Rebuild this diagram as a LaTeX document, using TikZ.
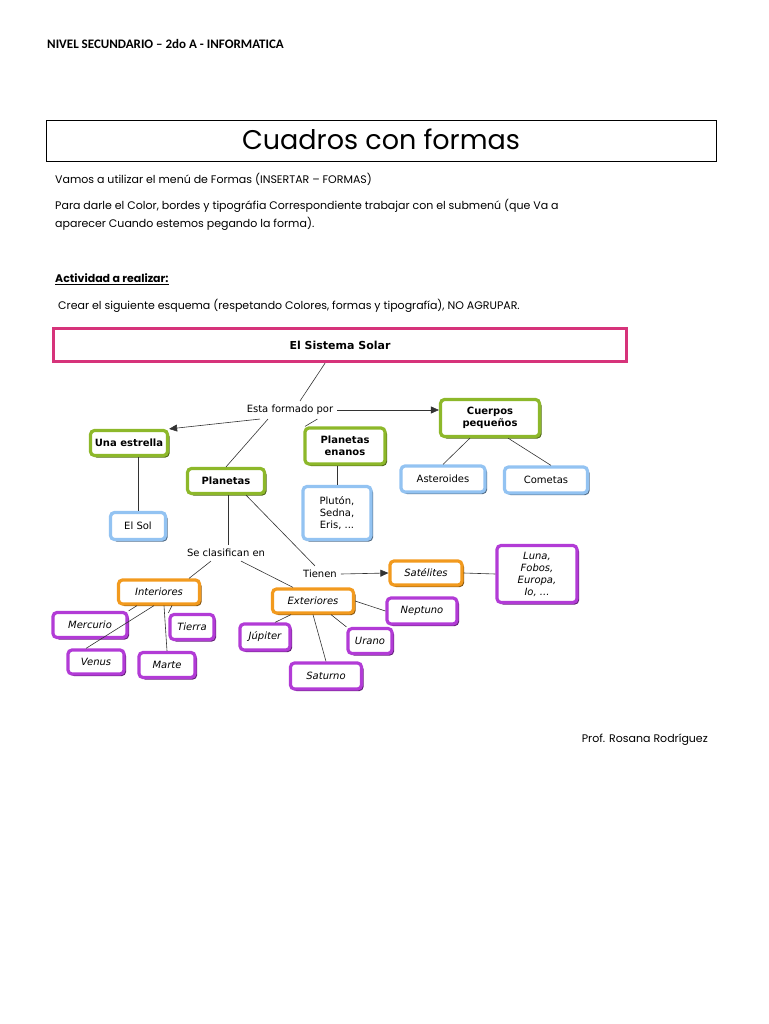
\documentclass[tikz,border=0pt]{standalone}
\usepackage{fontspec}
\setmainfont{Carlito}
\newfontfamily\dv{DejaVu Sans}
\newfontfamily\cm{Poppins}
\usetikzlibrary{shadows,arrows.meta}
\definecolor{pinkc}{HTML}{D6337A}
\definecolor{greenc}{HTML}{8DB82A}
\definecolor{bluec}{HTML}{93C3F2}
\definecolor{orangec}{HTML}{F29A1E}
\definecolor{purplec}{HTML}{B23BD6}
\tikzset{
 bx/.style={draw=#1, line width=3.2pt, rounded corners=4pt, fill=white, align=center, inner sep=1pt,
   drop shadow={shadow xshift=2pt, shadow yshift=-2pt, fill=#1!55!black, opacity=1}},
 gr/.style={bx=greenc, font=\dv\bfseries\fontsize{10}{12}\selectfont},
 bl/.style={bx=bluec, font=\dv\fontsize{10}{12}\selectfont},
 orn/.style={bx=orangec, font=\dv\itshape\fontsize{10}{12}\selectfont},
 pu/.style={bx=purplec, font=\dv\itshape\fontsize{10}{12}\selectfont},
 lb/.style={font=\dv\fontsize{10}{12}\selectfont, inner sep=4pt},
 ln/.style={draw=black!80, line width=0.6pt},
 ar/.style={ln, -{Triangle[length=8pt,width=7pt]}},
 tx/.style={font=\cm\fontsize{11}{14}\selectfont, anchor=west, inner sep=0pt},
}
\begin{document}
\begin{tikzpicture}[x=1pt,y=-1pt]
\useasboundingbox (0,0) rectangle (768,1024);
\node[anchor=west,inner sep=0pt,font=\bfseries\fontsize{13}{15}\selectfont] (hd) at (47,44) {NIVEL SECUNDARIO – 2do A - INFORMATICA};
\node[draw, line width=0.7pt, minimum width=670pt, minimum height=41pt, inner sep=0pt] (tb) at (381,140.5) {};
\node[font=\cm\fontsize{27}{30}\selectfont] (tt) at (381,139) {Cuadros con formas};
\node[tx] (l1) at (55,179) {Vamos a utilizar el menú de Formas (INSERTAR – FORMAS)};
\node[tx] (l2) at (55,206) {Para darle el Color, bordes y tipográfia Correspondiente trabajar con el submenú (que Va a};
\node[tx] (l3) at (55,224) {aparecer Cuando estemos pegando la forma).};
\node[tx,font=\cm\bfseries\fontsize{11}{14}\selectfont] (ac) at (55,279) {\underline{Actividad a realizar:}};
\node[tx] (cr) at (58,306) {Crear el siguiente esquema (respetando Colores, formas y tipografía), NO AGRUPAR.};
\node[tx,anchor=east] (pr) at (708,740) {Prof. Rosana Rodríguez};

% diagram
\node[draw=pinkc, line width=3.5pt, fill=white, minimum width=573pt, minimum height=33pt, font=\dv\bfseries\fontsize{11}{13}\selectfont] (ss) at (340,345) {El Sistema Solar};
\node[lb] (ef) at (290,410) {Esta formado por};
\node[gr, minimum width=77pt, minimum height=25pt] (ue) at (129,443) {Una estrella};
\node[gr, minimum width=77pt, minimum height=25pt] (pl) at (226,481) {Planetas};
\node[gr, minimum width=80pt, minimum height=36pt] (pe) at (345,446) {Planetas\\enanos};
\node[gr, minimum width=99pt, minimum height=37pt] (cp) at (490,418) {Cuerpos\\pequeños};
\node[bl, minimum width=55pt, minimum height=27pt] (so) at (138,526) {El Sol};
\node[bl, minimum width=68pt, minimum height=53pt] (pt) at (337,513) {Plutón,\\Sedna,\\Eris, ...};
\node[bl, minimum width=84pt, minimum height=26pt] (as) at (443,479) {Asteroides};
\node[bl, minimum width=83pt, minimum height=26pt] (co) at (546,480) {Cometas};
\node[lb] (sc) at (226,553) {Se clasifican en};
\node[lb] (ti) at (320,574) {Tienen};
\node[orn, minimum width=72pt, minimum height=24pt] (sa) at (426,573) {Satélites};
\node[pu, minimum width=80pt, minimum height=57pt] (lu) at (537,574) {Luna,\\Fobos,\\Europa,\\Io, ...};
\node[orn, minimum width=81pt, minimum height=24pt] (in) at (159,592) {Interiores};
\node[orn, minimum width=81pt, minimum height=24pt] (ex) at (313,601) {Exteriores};
\node[pu, minimum width=74pt, minimum height=25pt] (me) at (90,625) {Mercurio};
\node[pu, minimum width=44pt, minimum height=25pt] (tr) at (192,627) {Tierra};
\node[pu, minimum width=56pt, minimum height=24pt] (ve) at (96,662) {Venus};
\node[pu, minimum width=56pt, minimum height=25pt] (ma) at (167,665) {Marte};
\node[pu, minimum width=50pt, minimum height=26pt] (ju) at (265,637) {Júpiter};
\node[pu, minimum width=70pt, minimum height=26pt] (ne) at (422,611) {Neptuno};
\node[pu, minimum width=44pt, minimum height=25pt] (ur) at (370,641) {Urano};
\node[pu, minimum width=71pt, minimum height=26pt] (sat) at (326,676) {Saturno};

\draw[ln] (ss.south -| 325,0) -- (ef.north -| 300,0);
\draw[ar] ([xshift=-30pt]ef.south) -- (ue.north east);
\draw[ar] (ef.east) -- (cp.west |- ef.east);
\draw[ln] ([xshift=-22pt]ef.south) -- ([xshift=0pt]pl.north);
\draw[ln] ([xshift=-20pt]ef.south east) -- ([xshift=-40pt]pe.north);
\draw[ln] ([xshift=-20pt]cp.south) -- (as.north);
\draw[ln] ([xshift=18pt]cp.south) -- ([xshift=5pt]co.north);
\draw[ln] (ue.south -| so.north) -- (so.north);
\draw[ln] (pe.south -| pt.north) -- (pt.north);
\draw[ln] ([xshift=2pt]pl.south) -- ([xshift=2pt]sc.north);
\draw[ln] ([xshift=20pt]pl.south) -- ([xshift=-5pt]ti.north);
\draw[ln] ([xshift=-15pt]sc.south) -- ([xshift=30pt]in.north);
\draw[ln] ([xshift=15pt]sc.south) -- ([xshift=-20pt]ex.north);
\draw[ar] (ti.east) -- (sa.west);
\draw[ln] (sa.east) -- (lu.west);
\draw[ln] ([xshift=-22pt]in.south) -- (me.north east);
\draw[ln] ([xshift=-5pt]in.south) -- ([xshift=-10pt]ve.north);
\draw[ln] ([xshift=13pt]in.south) -- (tr.north west);
\draw[ln] ([xshift=5pt]in.south) -- (ma.north);
\draw[ln] ([xshift=-22pt]ex.south) -- ([xshift=10pt]ju.north);
\draw[ln] ([xshift=0pt]ex.south) -- (sat.north);
\draw[ln] ([xshift=18pt]ex.south) -- (ur.north west);
\draw[ln] (ex.east) -- (ne.west);
\end{tikzpicture}
\end{document}
